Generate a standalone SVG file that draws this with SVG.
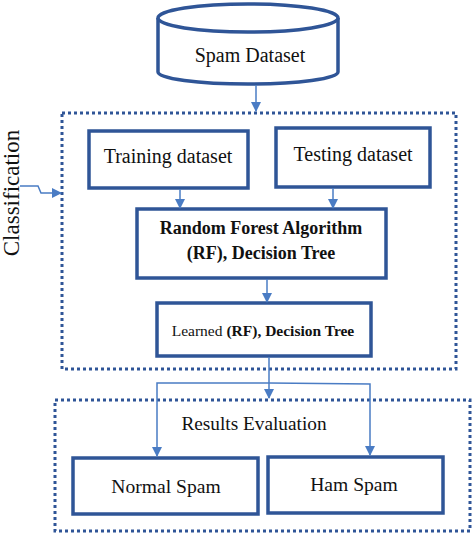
<svg xmlns="http://www.w3.org/2000/svg" width="474" height="534" viewBox="0 0 474 534">
<defs>
<style>
.box{fill:#fff;stroke:#2F5597;stroke-width:3.5}
.dot{fill:none;stroke:#2F5597;stroke-width:3;stroke-dasharray:3 3}
.con{fill:none;stroke:#4A7CC4;stroke-width:1.5}
.t{font-family:"Liberation Serif",serif;fill:#111;text-anchor:middle}
</style>
<marker id="ah" markerWidth="10" markerHeight="10" refX="9" refY="5" orient="auto" markerUnits="userSpaceOnUse">
<path d="M0,0 L10,5 L0,10 z" fill="#4A7CC4"/>
</marker>
</defs>
<rect width="474" height="534" fill="#fff"/>
<g id="classification">
<rect class="dot" x="62" y="113" width="394" height="256"/>
<text class="t" font-size="23" transform="translate(19,193) rotate(-90)">Classification</text>
</g>
<g id="results">
<rect class="dot" x="55" y="400" width="415" height="131"/>
<text class="t" font-size="19.3" x="254" y="430">Results Evaluation</text>
</g>
<g id="spam-dataset">
<path class="box" d="M158,18 L158,72 A90,12 0 0 0 338,72 L338,18"/>
<ellipse class="box" cx="248" cy="18" rx="90" ry="14"/>
<text class="t" font-size="20" x="250" y="62">Spam Dataset</text>
</g>
<g id="training">
<rect class="box" x="89" y="131" width="159" height="57"/>
<text class="t" font-size="20" x="168" y="163">Training dataset</text>
</g>
<g id="testing">
<rect class="box" x="276" y="128" width="154" height="59"/>
<text class="t" font-size="20" x="353" y="161">Testing dataset</text>
</g>
<g id="rf">
<rect class="box" x="137" y="209" width="249" height="69"/>
<text class="t" font-size="18" font-weight="bold" x="261" y="234">Random Forest  Algorithm</text>
<text class="t" font-size="18" font-weight="bold" x="261" y="259">(RF),  Decision Tree</text>
</g>
<g id="learned">
<rect class="box" x="157" y="303" width="214" height="53"/>
<text class="t" font-size="15.5" x="263" y="336">Learned <tspan font-weight="bold">(RF), Decision Tree</tspan></text>
</g>
<g id="normal">
<rect class="box" x="73" y="458" width="185" height="56"/>
<text class="t" font-size="19.6" x="166" y="493">Normal Spam</text>
</g>
<g id="ham">
<rect class="box" x="268" y="457" width="175" height="56"/>
<text class="t" font-size="19.6" x="354" y="491">Ham Spam</text>
</g>
<g id="connectors">
<line class="con" x1="256" y1="85" x2="256" y2="111" marker-end="url(#ah)"/>
<line class="con" x1="180" y1="189" x2="180" y2="208" marker-end="url(#ah)"/>
<line class="con" x1="333" y1="188" x2="333" y2="208" marker-end="url(#ah)"/>
<line class="con" x1="267" y1="279" x2="267" y2="302" marker-end="url(#ah)"/>
<line class="con" x1="269" y1="357" x2="269" y2="398" marker-end="url(#ah)"/>
<polyline class="con" points="269,383 157,383 157,456" marker-end="url(#ah)"/>
<polyline class="con" points="269,383 370,384 370,455" marker-end="url(#ah)"/>
<polyline class="con" points="20,186 38,186 41,193 61,193" marker-end="url(#ah)"/>
</g>
</svg>
